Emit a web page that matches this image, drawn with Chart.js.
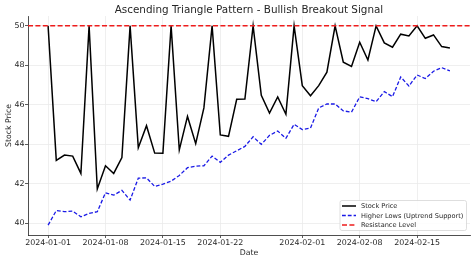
<!DOCTYPE html>
<html><head><meta charset="utf-8">
<script src="https://cdn.jsdelivr.net/npm/chart.js@4"></script>
<style>html,body{margin:0;padding:0;background:#fff}canvas{display:block}</style>
</head><body>
<canvas id="c" width="474" height="261"></canvas>
<script>
const dates = [
  '2024-01-01','2024-01-02','2024-01-03','2024-01-04','2024-01-05','2024-01-06','2024-01-07','2024-01-08','2024-01-09','2024-01-10',
  '2024-01-11','2024-01-12','2024-01-13','2024-01-14','2024-01-15','2024-01-16','2024-01-17','2024-01-18','2024-01-19','2024-01-20',
  '2024-01-21','2024-01-22','2024-01-23','2024-01-24','2024-01-25','2024-01-26','2024-01-27','2024-01-28','2024-01-29','2024-01-30',
  '2024-01-31','2024-02-01','2024-02-02','2024-02-03','2024-02-04','2024-02-05','2024-02-06','2024-02-07','2024-02-08','2024-02-09',
  '2024-02-10','2024-02-11','2024-02-12','2024-02-13','2024-02-14','2024-02-15','2024-02-16','2024-02-17','2024-02-18','2024-02-19'
];
const stockPrice = [
  50.00, 43.18, 43.45, 43.40, 42.52, 50.00, 41.73, 42.91, 42.52, 43.32,
  50.00, 43.82, 44.94, 43.55, 43.54, 50.00, 43.71, 45.41, 44.03, 45.84,
  50.00, 44.47, 44.40, 46.28, 46.29, 50.00, 46.48, 45.58, 46.40, 45.52,
  50.00, 46.97, 46.46, 46.97, 47.65, 50.00, 48.16, 47.94, 49.17, 48.27,
  50.00, 49.14, 48.92, 49.58, 49.49, 50.00, 49.37, 49.54, 48.95, 48.88
];
const higherLows = [
  39.90, 40.64, 40.58, 40.61, 40.32, 40.49, 40.58, 41.54, 41.42, 41.66,
  41.17, 42.28, 42.30, 41.86, 41.98, 42.13, 42.42, 42.81, 42.89, 42.91,
  43.40, 43.08, 43.45, 43.67, 43.89, 44.38, 43.99, 44.45, 44.67, 44.30,
  45.01, 44.74, 44.82, 45.84, 46.04, 46.04, 45.69, 45.63, 46.40, 46.31,
  46.16, 46.67, 46.41, 47.41, 46.95, 47.51, 47.33, 47.70, 47.88, 47.72
];
const resistanceLevel = 50;
const yTickValues = [40, 42, 44, 46, 48, 50];
const xTickLabels = ['2024-01-01','2024-01-08','2024-01-15','2024-01-22','2024-02-01','2024-02-08','2024-02-15'];
const seriesLabels = ['Stock Price', 'Higher Lows (Uptrend Support)', 'Resistance Level'];
const titleText = 'Ascending Triangle Pattern - Bullish Breakout Signal';
const xTitle = 'Date';
const yTitle = 'Stock Price';

const DAY = 86400000;
const t0 = Date.parse(dates[0]);
const dayOf = s => Math.round((Date.parse(s) - t0) / DAY);

const FONT = 'DejaVu Sans';
const TXT = '#262626';
const RED = '#ee1c1c';
const BLUE = '#1a1ae6';

const overlay = {
  id: 'overlay',
  afterDatasetsDraw(chart) {
    const {ctx, chartArea: a, scales: {y}} = chart;
    const py = y.getPixelForValue(resistanceLevel);
    ctx.save();
    ctx.beginPath(); ctx.rect(a.left, a.top, a.right - a.left, a.bottom - a.top); ctx.clip();
    ctx.strokeStyle = RED; ctx.lineWidth = 1.5; ctx.setLineDash([5, 2.4]);
    ctx.beginPath(); ctx.moveTo(a.left, py); ctx.lineTo(a.right, py); ctx.stroke();
    ctx.restore();
  },
  afterDraw(chart) {
    const {ctx, chartArea: a} = chart;
    ctx.save();
    ctx.fillStyle = TXT;
    ctx.font = '10.4px "' + FONT + '"';
    ctx.textAlign = 'center'; ctx.textBaseline = 'alphabetic';
    ctx.fillText(titleText, (a.left + a.right) / 2, 12.7);
    ctx.font = '7.8px "' + FONT + '"';
    ctx.fillText(xTitle, (a.left + a.right) / 2, 254.5);
    ctx.save();
    ctx.translate(11.2, (a.top + a.bottom) / 2);
    ctx.rotate(-Math.PI / 2);
    ctx.fillText(yTitle, 0, 0);
    ctx.restore();
    const bx = 340, by = 200.5, bw = 126.5, bh = 30, r = 2;
    ctx.beginPath();
    ctx.moveTo(bx + r, by); ctx.lineTo(bx + bw - r, by); ctx.arcTo(bx + bw, by, bx + bw, by + r, r);
    ctx.lineTo(bx + bw, by + bh - r); ctx.arcTo(bx + bw, by + bh, bx + bw - r, by + bh, r);
    ctx.lineTo(bx + r, by + bh); ctx.arcTo(bx, by + bh, bx, by + bh - r, r);
    ctx.lineTo(bx, by + r); ctx.arcTo(bx, by, bx + r, by, r); ctx.closePath();
    ctx.fillStyle = 'rgba(255,255,255,0.85)'; ctx.fill();
    ctx.strokeStyle = '#d6d6d6'; ctx.lineWidth = 0.8; ctx.stroke();
    const ds = chart.data.datasets;
    const items = [
      {label: ds[0].label, color: ds[0].borderColor, w: ds[0].borderWidth, dash: []},
      {label: ds[1].label, color: ds[1].borderColor, w: ds[1].borderWidth, dash: ds[1].borderDash},
      {label: seriesLabels[2], color: RED, w: 1.5, dash: [5, 2.4]}
    ];
    const rows = [206, 215.5, 225];
    ctx.font = '6.6px "' + FONT + '"';
    ctx.textAlign = 'left'; ctx.textBaseline = 'middle';
    items.forEach((it, i) => {
      ctx.strokeStyle = it.color; ctx.lineWidth = it.w; ctx.setLineDash(it.dash);
      ctx.beginPath(); ctx.moveTo(342, rows[i]); ctx.lineTo(356, rows[i]); ctx.stroke();
      ctx.setLineDash([]);
      ctx.fillStyle = TXT;
      ctx.fillText(it.label, 361, rows[i] + 0.3);
    });
    ctx.restore();
  }
};

new Chart(document.getElementById('c'), {
  type: 'line',
  data: {
    datasets: [
      {label: seriesLabels[0], data: dates.map((d, i) => ({x: dayOf(d), y: stockPrice[i]})),
       borderColor: '#000000', borderWidth: 1.5, pointRadius: 0, tension: 0},
      {label: seriesLabels[1], data: dates.map((d, i) => ({x: dayOf(d), y: higherLows[i]})),
       borderColor: BLUE, borderWidth: 1.3, borderDash: [3.8, 2], pointRadius: 0, tension: 0}
    ]
  },
  options: {
    responsive: false, animation: false, devicePixelRatio: 1,
    layout: {padding: {top: 16, right: 4, left: 0, bottom: 0}},
    plugins: {legend: {display: false}, title: {display: false}, tooltip: {enabled: false}},
    scales: {
      x: {
        type: 'linear', min: -2.45, max: 51.45,
        afterBuildTicks: s => { s.ticks = xTickLabels.map(l => ({value: dayOf(l)})); },
        afterFit: s => { s.height = 26; },
        ticks: {
          autoSkip: false, maxRotation: 0, padding: 0, color: TXT,
          font: {family: FONT, size: 7.9},
          callback: v => { const l = xTickLabels.find(t => dayOf(t) === v); return l || ''; }
        },
        grid: {color: '#ebebeb', lineWidth: 0.8, tickColor: '#333', tickLength: 3},
        border: {display: true, color: '#222', width: 0.8}
      },
      y: {
        type: 'linear', min: 39.4, max: 50.5,
        afterBuildTicks: s => { s.ticks = yTickValues.map(v => ({value: v})); },
        afterFit: s => { s.width = 28; },
        ticks: {padding: 0.5, color: TXT, font: {family: FONT, size: 7.9}, callback: v => String(v)},
        grid: {color: '#ebebeb', lineWidth: 0.8, tickColor: '#333', tickLength: 3},
        border: {display: true, color: '#222', width: 0.8}
      }
    }
  },
  plugins: [overlay]
});
</script>
</body></html>
